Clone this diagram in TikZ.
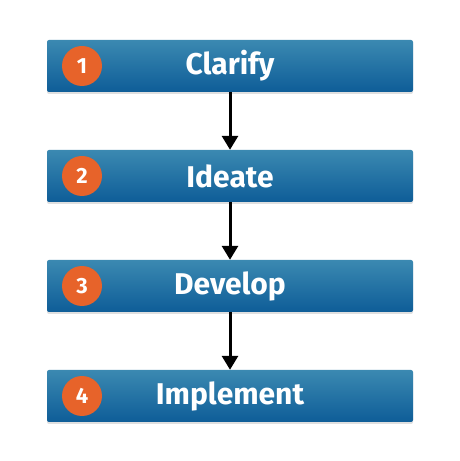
\documentclass[tikz,border=0pt]{standalone}
\usepackage{fontspec}
\setmainfont{Fira Sans}
\usetikzlibrary{arrows.meta,shadows}
\definecolor{boxtop}{HTML}{3B89B1}
\definecolor{boxbot}{HTML}{0E5D98}
\definecolor{badge}{HTML}{E7632A}

\begin{document}
\begin{tikzpicture}[line cap=round,line join=round,x=1pt,y=1pt,
  stage/.style={minimum width=366pt,minimum height=52pt,rounded corners=2pt,
    top color=boxtop,bottom color=boxbot,text=white,font=\bfseries\fontsize{30}{34}\selectfont,
    drop shadow={opacity=0.25,shadow xshift=0pt,shadow yshift=-2pt}},
  badge/.style={circle,fill=badge,minimum size=40pt,inner sep=0pt,text=white,
    font=\bfseries\fontsize{22}{26}\selectfont},
  link/.style={-{Triangle[length=14pt,width=16pt]},line width=3pt,line cap=butt}]
\useasboundingbox (0,0) rectangle (460,461);
\node[stage] (clarify) at (230,395) {Clarify};
\node[stage] (ideate) at (230,285) {Ideate};
\node[stage] (develop) at (230,175) {Develop};
\node[stage] (implement) at (230,65) {Implement};
\node[badge] (n1) at (82,395) {1};
\node[badge] (n2) at (82,285) {2};
\node[badge] (n3) at (82,175) {3};
\node[badge] (n4) at (82,65) {4};
\draw[link] (clarify) -- (ideate);
\draw[link] (ideate) -- (develop);
\draw[link] (develop) -- (implement);
\end{tikzpicture}
\end{document}
